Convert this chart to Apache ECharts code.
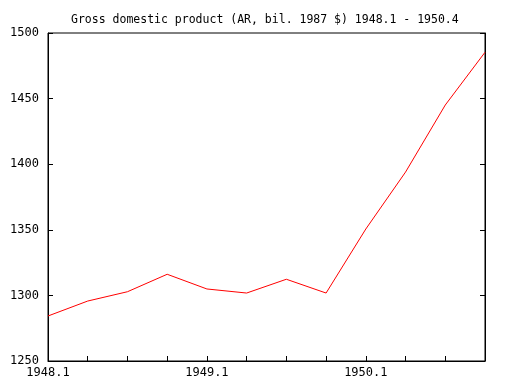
<!DOCTYPE html>
<html><head><meta charset="utf-8">
<script src="https://cdn.jsdelivr.net/npm/echarts@6/dist/echarts.min.js"></script>
<style>html,body{margin:0;padding:0;background:#fff}#c{width:512px;height:384px}</style>
</head><body><div id="c"></div>
<script>
const titleText = 'Gross domestic product (AR, bil. 1987 $) 1948.1 - 1950.4';
const categories = ['1948.1','1948.2','1948.3','1948.4','1949.1','1949.2','1949.3','1949.4','1950.1','1950.2','1950.3','1950.4'];
const gdpValues = [1284.3, 1295.7, 1302.8, 1316.1, 1304.9, 1301.8, 1312.3, 1301.8, 1350.6, 1394.0, 1445.1, 1485.3];
const yTicks = [1250, 1300, 1350, 1400, 1450, 1500];

const font = 'DejaVu Sans Mono';
const chart = echarts.init(document.getElementById('c'), null, {renderer: 'canvas'});
chart.setOption({
  animation: false,
  backgroundColor: '#fff',
  title: {
    text: titleText, left: 66, top: 9,
    textStyle: {fontFamily: font, fontSize: 11.5, fontWeight: 'normal', color: '#000'}
  },
  grid: {left: 48, right: 27, top: 33, bottom: 23, show: true, borderColor: '#000', borderWidth: 1},
  xAxis: {
    type: 'category', data: categories, boundaryGap: false,
    axisLine: {lineStyle: {color: '#000'}},
    axisTick: {inside: true, length: 5, interval: 0, lineStyle: {color: '#000'}},
    axisLabel: {interval: 3, color: '#000', fontFamily: font, fontSize: 12, margin: 6},
    splitLine: {show: false}
  },
  yAxis: [{
    type: 'value', min: yTicks[0], max: yTicks[yTicks.length-1], interval: 50,
    axisLine: {show: true, lineStyle: {color: '#000'}},
    axisTick: {show: true, inside: true, length: 5, lineStyle: {color: '#000'}},
    axisLabel: {color: '#000', fontFamily: font, fontSize: 12, margin: 9, formatter: v => String(v)},
    splitLine: {show: false}
  }, {
    type: 'value', position: 'right', min: yTicks[0], max: yTicks[yTicks.length-1], interval: 50,
    axisLine: {show: true, lineStyle: {color: '#000'}},
    axisTick: {show: true, inside: true, length: 5, lineStyle: {color: '#000'}},
    axisLabel: {show: false},
    splitLine: {show: false}
  }],
  series: [{
    type: 'line', data: gdpValues, symbol: 'none',
    lineStyle: {color: '#ff0000', width: 1}
  }]
});
</script></body></html>
